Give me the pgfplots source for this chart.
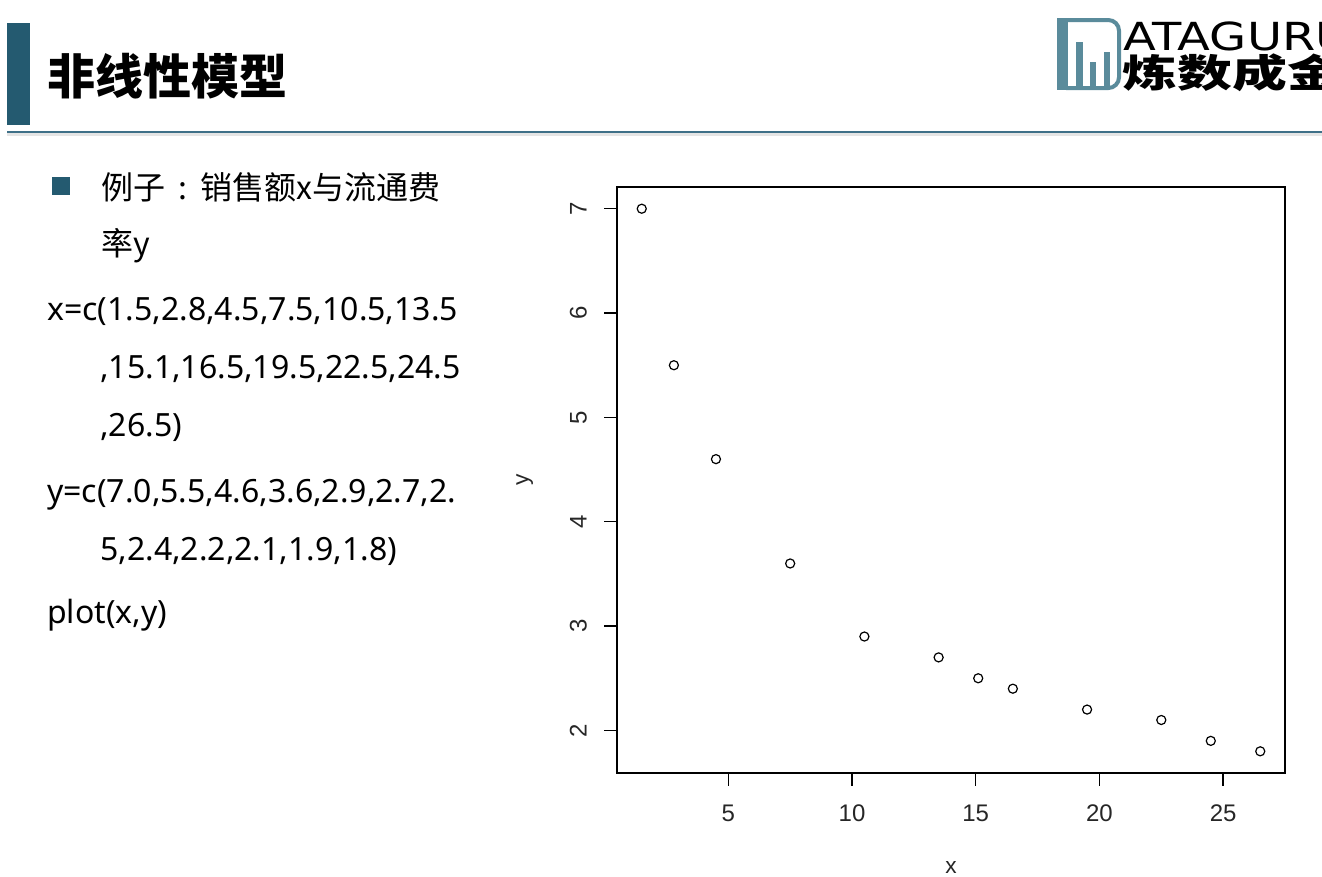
\documentclass[border=0pt]{standalone}
\usepackage{pgfplots}
\pgfplotsset{compat=1.18}
\usepackage{fontspec}
\setmainfont{Liberation Sans}
\newfontfamily\cjk{Noto Sans CJK SC}
\newfontfamily\latin{Noto Sans}
\newfontfamily\logofont{DejaVu Sans}
\definecolor{slideteal}{HTML}{245A70}
\definecolor{ruleteal}{HTML}{3F7088}
\definecolor{logoteal}{HTML}{5A8B9B}

\begin{document}
\begin{tikzpicture}
\path[use as bounding box] (0,0) rectangle (991.5pt,-657pt);
\begin{scope}[x=0.75pt,y=-0.75pt]
  % slide header
  \fill[slideteal] (7,23) rectangle (30,125);
  \fill[black!10] (7,133) rectangle (1322,136);
  \draw[ruleteal, line width=1.5pt] (7,131.5) -- (1322,131.5);
  \node[anchor=base west, inner sep=0pt, font=\cjk\bfseries\fontsize{36}{40}\selectfont] at (47,94) {非线性模型};
  % logo
  \fill[logoteal] (1057,18) rectangle (1068,90);
  \draw[logoteal, line width=3pt, rounded corners=8pt] (1066,20) -- (1119,20) -- (1119,88) -- (1066,88);
  \fill[logoteal] (1076,42) rectangle (1083,86);
  \fill[logoteal] (1090,62) rectangle (1096,86);
  \fill[logoteal] (1104,52) rectangle (1110,86);
  \node[anchor=base west, inner sep=0pt, transform shape, xscale=1.24, font=\logofont\fontsize{29}{30}\selectfont] at (1123,50) {ATAGURU};
  \node[anchor=base west, inner sep=0pt, transform shape, xscale=1.42, font=\cjk\bfseries\fontsize{29}{30}\selectfont] at (1122,87) {炼数成金};
  % body text
  \fill[slideteal] (52,177) rectangle (70,195);
  \node[anchor=base west, inner sep=0pt, font=\cjk\fontsize{24}{28}\selectfont] at (101,199) {例子\makebox[1.1em][c]{:}销售额x与流通费};
  \node[anchor=base west, inner sep=0pt, font=\cjk\fontsize{24}{28}\selectfont] at (101,255) {率y};
  \begin{scope}[every node/.style={anchor=base west, inner sep=0pt, font=\latin\fontsize{24}{28}\selectfont}]
    \node at (47,320) {x=c(1.5,2.8,4.5,7.5,10.5,13.5};
    \node at (100,378) {,15.1,16.5,19.5,22.5,24.5};
    \node at (100,436) {,26.5)};
    \node at (47,502) {y=c(7.0,5.5,4.6,3.6,2.9,2.7,2.};
    \node at (100,560) {5,2.4,2.2,2.1,1.9,1.8)};
    \node at (47,623) {plot(x,y)};
  \end{scope}
\end{scope}

\begin{axis}[
  at={(462.75pt,-579.75pt)}, anchor=south west,
  scale only axis, width=501pt, height=439.5pt,
  xmin=0.5, xmax=27.5, ymin=1.592, ymax=7.208,
  xtick={5,10,15,20,25}, ytick={2,3,4,5,6,7},
  xtick pos=bottom, ytick pos=left,
  tick align=outside, major tick length=9.5pt,
  axis line style={line width=1pt},
  every tick/.style={black, line width=1pt},
  /pgf/number format/assume math mode=true,
  tick label style={font=\fontsize{18}{20}\selectfont, text=black!85},
  xticklabel style={inner ysep=14pt},
  yticklabel style={rotate=90, anchor=south, inner ysep=13pt},
  xlabel={x}, ylabel={y},
  label style={font=\fontsize{17}{19}\selectfont, text=black!85},
  xlabel style={anchor=center, at={(axis description cs:0.5,-0.162)}},
  ylabel style={anchor=center, at={(axis description cs:-0.138,0.5)}},
]
\addplot[only marks, mark=o, mark size=3.4pt, mark options={line width=0.9pt, black}] coordinates {
  (1.5,7.0) (2.8,5.5) (4.5,4.6) (7.5,3.6) (10.5,2.9) (13.5,2.7)
  (15.1,2.5) (16.5,2.4) (19.5,2.2) (22.5,2.1) (24.5,1.9) (26.5,1.8)
};
\end{axis}
\end{tikzpicture}
\end{document}
